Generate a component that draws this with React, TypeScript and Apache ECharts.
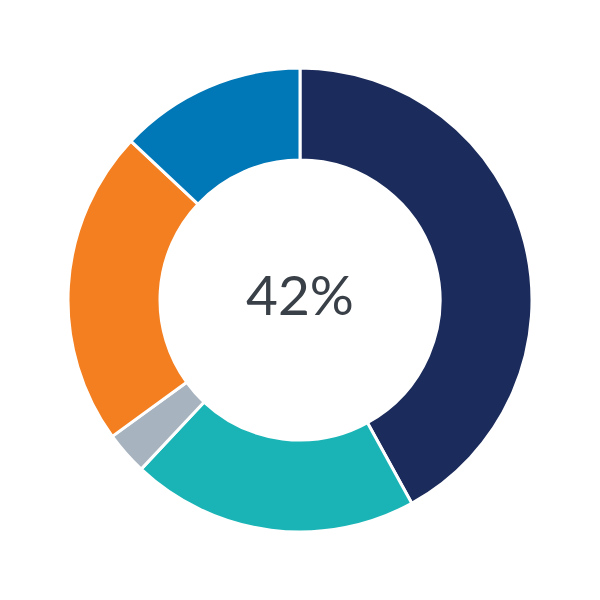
import { useEffect, useRef } from 'react'
import * as echarts from 'echarts'

const categories = ['A', 'B', 'C', 'D', 'E']
const values = [42, 20, 3, 22, 13]
const colors = ['#1b2b5b', '#1ab4b6', '#a7b3bf', '#f37f20', '#0077b6']
const centerLabel = '42%'

export default function App() {
  const ref = useRef<HTMLDivElement>(null)

  useEffect(() => {
    document.body.style.margin = '0'
    if (!ref.current) return
    const chart = echarts.init(ref.current, null, { renderer: 'svg' })

    chart.setOption({
      animation: false,
      backgroundColor: '#ffffff',
      graphic: [
        {
          type: 'text',
          left: 'center',
          top: 266,
          style: {
            text: centerLabel,
            fontFamily: 'Lato',
            fontWeight: 400,
            fontSize: 55,
            fill: '#3a4048',
          },
        },
      ],
      series: [
        {
          type: 'pie',
          radius: [140, 232],
          center: ['50%', '50%'],
          startAngle: 90,
          clockwise: true,
          label: { show: false },
          labelLine: { show: false },
          emphasis: { disabled: true },
          itemStyle: { borderColor: '#ffffff', borderWidth: 3 },
          data: categories.map((c, i) => ({
            name: c,
            value: values[i],
            itemStyle: { color: colors[i] },
          })),
        },
      ],
    })

    return () => chart.dispose()
  }, [])

  return <div ref={ref} style={{ width: 600, height: 600 }} />
}
